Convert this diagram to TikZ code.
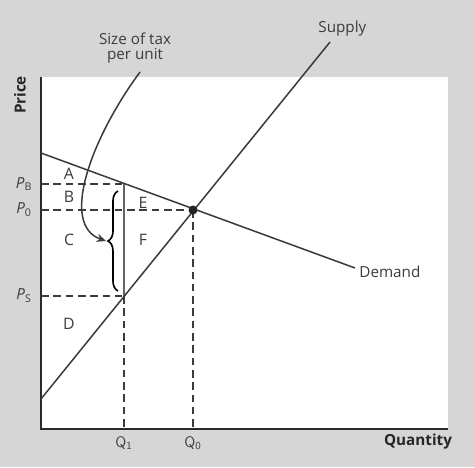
\documentclass[tikz,border=0pt]{standalone}
\usepackage{fontspec}
\setmainfont{Open Sans}
\usetikzlibrary{arrows.meta,decorations.pathreplacing}
\definecolor{bggray}{RGB}{214,214,214}
\definecolor{ink}{RGB}{60,60,60}

\begin{document}
\begin{tikzpicture}[x=0.03cm, y=-0.03cm,
  every node/.style={font=\fontsize{13}{14}\selectfont, text=ink, inner sep=1pt},
  curve/.style={draw=ink, line width=1.3pt},
  guide/.style={draw=ink, line width=1.3pt, dash pattern=on 6.5pt off 4pt},
  axis/.style={draw=ink!70!black, line width=2.2pt},
  area/.style={font=\fontsize{13.5}{14}\selectfont}
]
% panel
\fill[bggray] (0,0) rectangle (474,467);
\fill[white] (41,77) rectangle (448,429);

% key points
\coordinate (origin) at (41,429);
\coordinate (ytop) at (41,77);
\coordinate (xend) at (448,429);
\coordinate (dstart) at (41,153);
\coordinate (dend) at (355,268);
\coordinate (sstart) at (41,399);
\coordinate (send) at (330,42);
\coordinate (eq) at (193,210);
\coordinate (top) at (124,184);
\coordinate (bot) at (124,296);

% axes
\draw[axis] (ytop) -- (origin) -- (xend);

% guides
\draw[guide] (41,184) -- (top);
\draw[guide] (41,210) -- (eq);
\draw[guide] (41,296) -- (bot);
\draw[guide] (bot) -- (124,429);
\draw[guide] (eq) -- (193,429);
\draw[draw=ink!80, line width=1.2pt] (top) -- (bot);

% demand and supply
\draw[curve] (dstart) -- (dend);
\draw[curve] (sstart) -- (send);
\fill[ink!60!black] (eq) circle (4.5);

% tax brace and pointer
\draw[black, line width=1.4pt, decorate, decoration={brace, amplitude=0.3cm}] (118,291) -- (118,191);
\node[align=center] (tax) at (135,48) {Size of tax\\[-2pt]per unit};
\draw[curve, -{Stealth[length=8pt,width=7pt]}] (140,72) .. controls (90,140) and (60,225) .. (106,241);

% labels
\node[anchor=west] (supply) at (317,29) {Supply};
\node[anchor=west] (demand) at (358,272) {Demand};
\node[rotate=90, font=\fontsize{13}{14}\selectfont\bfseries, text=black!85] (price) at (20,95) {Price};
\node[font=\fontsize{13}{14}\selectfont\bfseries, text=black!85] (qty) at (418,442) {Quantity};
\node (q1) at (124,443) {$\mathsf{Q}_{\mathsf{1}}$};
\node (q0) at (193,443) {$\mathsf{Q}_{\mathsf{0}}$};
\node (pb) at (24,184) {\textit{P}\textsubscript{B}};
\node (p0) at (24,210) {\textit{P}\textsubscript{0}};
\node (ps) at (24,296) {\textit{P}\textsubscript{S}};

% areas
\node[area] (a) at (69,174) {A};
\node[area] (b) at (69,197) {B};
\node[area] (c) at (69,240) {C};
\node[area] (d) at (69,324) {D};
\node[area] (e) at (143,203) {E};
\node[area] (f) at (143,240) {F};
\end{tikzpicture}
\end{document}
